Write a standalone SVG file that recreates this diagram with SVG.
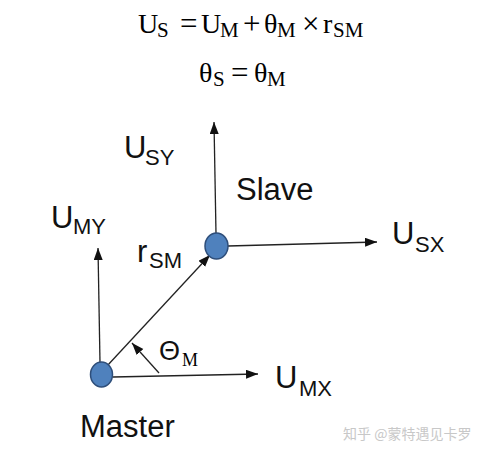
<svg xmlns="http://www.w3.org/2000/svg" width="487" height="453" viewBox="0 0 487 453">
<defs>
<marker id="arr" markerUnits="userSpaceOnUse" markerWidth="13" markerHeight="10" refX="12" refY="4.5" orient="auto">
<path d="M0,0 L12,4.5 L0,9 z" fill="#111"/>
</marker>
<style>
.ln{stroke:#222;stroke-width:1.3;fill:none;marker-end:url(#arr)}
.nd{fill:#4F81BD;stroke:#2E4E7A;stroke-width:1.5}
.lb{font-family:"Liberation Sans",Arial,sans-serif;font-size:31px;fill:#111}
.sb{font-family:"Liberation Sans",Arial,sans-serif;font-size:22px;fill:#111}
.fm{font-family:"Liberation Serif","Times New Roman",serif;font-size:28px;fill:#000}
.op{font-family:"Liberation Serif","Times New Roman",serif;font-size:31px;fill:#000}
.fs{font-family:"Liberation Serif","Times New Roman",serif;font-size:21px;fill:#000}
.wm{font-family:"Noto Sans CJK SC",sans-serif;font-size:14px;fill:#c8c8c8}
</style>
</defs>
<rect width="487" height="453" fill="#fff"/>
<g id="formula">
<text class="fm" x="138" y="33">U</text><text class="fs" x="157" y="37">S</text>
<text class="op" x="180" y="34">=</text>
<text class="fm" x="201" y="33">U</text><text class="fs" x="220" y="37">M</text>
<text class="op" x="243" y="34">+</text>
<text class="fm" x="264" y="33">θ</text><text class="fs" x="277" y="37">M</text>
<text class="op" x="302" y="34">×</text>
<text class="fm" x="323" y="33">r</text><text class="fs" x="333" y="37">SM</text>
<text class="fm" x="199" y="82">θ</text><text class="fs" x="213" y="86">S</text>
<text class="op" x="231" y="83">=</text>
<text class="fm" x="254" y="82">θ</text><text class="fs" x="267" y="86">M</text>
</g>
<g id="connectors">
<line class="ln" x1="216" y1="234" x2="214" y2="122"/>
<line class="ln" x1="228" y1="246" x2="377" y2="242"/>
<line class="ln" x1="100" y1="363" x2="98" y2="248"/>
<line class="ln" x1="113" y1="377" x2="258" y2="374"/>
<line class="ln" x1="107" y1="366" x2="210" y2="255"/>
<line class="ln" x1="159" y1="373" x2="132" y2="343"/>
</g>
<g id="master">
<ellipse class="nd" cx="101.5" cy="374.5" rx="11" ry="12.5"/>
<text class="lb" x="80" y="437">Master</text>
</g>
<g id="slave">
<ellipse class="nd" cx="216.5" cy="246" rx="11.5" ry="13"/>
<text class="lb" x="236" y="200">Slave</text>
</g>
<g id="labels">
<text class="lb" x="124" y="158">U</text><text class="sb" x="145" y="165">SY</text>
<text class="lb" x="51" y="228">U</text><text class="sb" x="73" y="234">MY</text>
<text class="lb" x="137" y="262">r</text><text class="sb" x="149" y="268">SM</text>
<text class="lb" x="392" y="244">U</text><text class="sb" x="415" y="252">SX</text>
<text class="lb" x="275" y="388">U</text><text class="sb" x="299" y="396">MX</text>
<text class="lb" x="159" y="360" style="font-size:27px">Θ</text><text class="fs" x="182" y="366" style="font-size:18px">M</text>
</g>
<text class="wm" x="343" y="439">知乎 @蒙特遇见卡罗</text>
</svg>
